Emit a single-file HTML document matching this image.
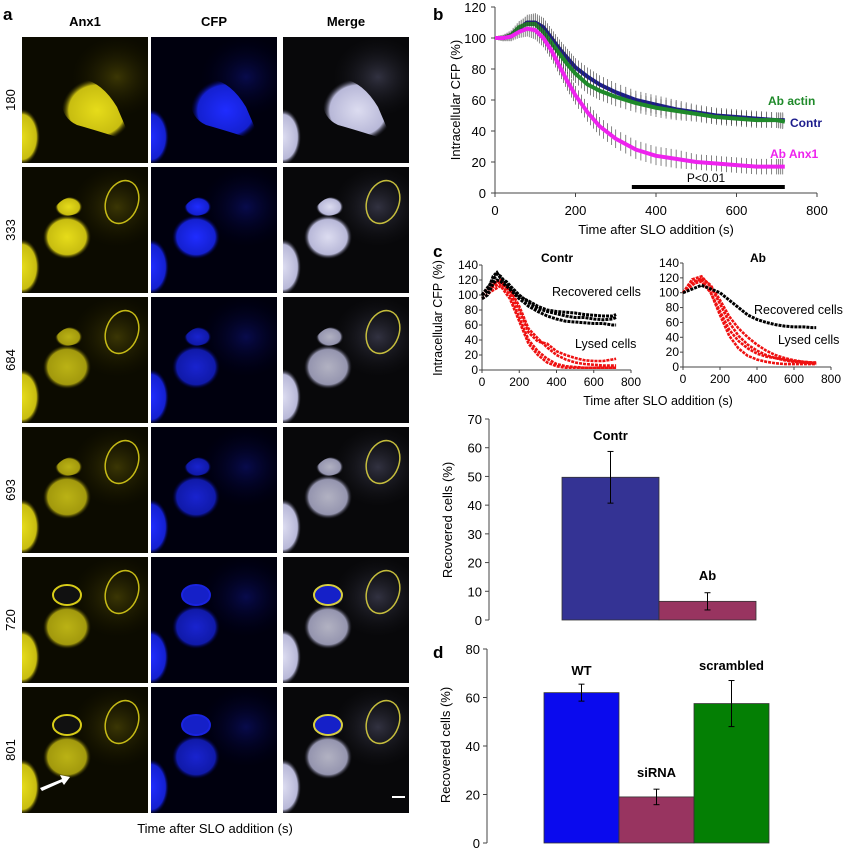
<!DOCTYPE html>
<html><head><meta charset="utf-8"><style>
html,body{margin:0;padding:0;background:#fff;}
svg{display:block;font-family:"Liberation Sans",Arial,sans-serif;}
</style></head><body>
<svg id="fig" width="844" height="850" viewBox="0 0 844 850" xmlns="http://www.w3.org/2000/svg">
<defs>
<radialGradient id="gy"><stop offset="0" stop-color="#e6dc1a"/><stop offset="0.8" stop-color="#c8bd10"/><stop offset="1" stop-color="#3a3500" stop-opacity="0"/></radialGradient>
<radialGradient id="gb"><stop offset="0" stop-color="#1f2cff"/><stop offset="0.8" stop-color="#1420d0"/><stop offset="1" stop-color="#000040" stop-opacity="0"/></radialGradient>
<radialGradient id="gm"><stop offset="0" stop-color="#dcdcf0"/><stop offset="0.8" stop-color="#b8b8d8"/><stop offset="1" stop-color="#303040" stop-opacity="0"/></radialGradient>
<radialGradient id="gy2"><stop offset="0" stop-color="#6a6208"/><stop offset="1" stop-color="#2a2600" stop-opacity="0"/></radialGradient>
<radialGradient id="gb2"><stop offset="0" stop-color="#10168a"/><stop offset="1" stop-color="#000030" stop-opacity="0"/></radialGradient>
<radialGradient id="gm2"><stop offset="0" stop-color="#5c5c78"/><stop offset="1" stop-color="#202028" stop-opacity="0"/></radialGradient>
</defs>
<g id="panelA"></g>
<g id="panelB"></g>
<g id="panelC"></g>
<g id="panelD"></g>
</svg>
<script>
// ---------- Panel b data ----------
const bTimes = [0,20,40,60,80,100,120,140,160,180,200,230,260,300,350,400,450,500,550,600,650,700,720];
const bContr = [100,100,101,106,110,110,107,100,93,87,81,75,70,65,60,57,54,52,50,49,48,47,47];
const bActin = [100,100,102,107,109,109,104,97,90,83,77,70,66,62,58,55,53,51,49,48,47,47,46];
const bAnx1  = [100,100,101,104,106,105,100,92,82,72,63,52,43,35,28,24,22,20,19,18,17,17,17];
const bErr   = [1,2,3,4,5,6,6,6,6,6,6,6,6,6,6,6,6,5,5,5,5,5,5];
const bXTicks = [0,200,400,600,800];
const bYTicks = [0,20,40,60,80,100,120];
// ---------- Panel c data ----------
const cTimes = [0,30,60,80,100,130,160,200,250,300,350,400,450,500,550,600,650,700,720];
const cRecA = [100,105,125,130,122,118,110,100,90,82,78,75,72,70,70,68,67,68,70];
const cRecB = [95,100,115,120,118,112,105,95,85,78,72,68,65,64,63,62,62,60,60];
const cRecC = [100,110,120,128,125,115,108,98,92,85,80,78,77,76,74,73,72,72,74];
const lTimes = [0,50,100,150,200,250,300,350,400,450,500,550,600,650,700,720];
const cLys1 = [100,110,115,100,70,40,25,15,8,5,4,3,3,3,3,3];
const cLys2 = [100,112,118,105,80,50,38,35,25,20,16,13,12,12,14,15];
const cLys3 = [95,105,112,95,65,35,20,10,5,3,3,3,3,3,3,3];
const cLys4 = [100,115,120,108,85,55,42,30,20,14,10,8,7,6,6,6];
const abRec = [100,105,110,105,100,90,80,70,64,60,57,55,54,54,53,53];
const abLys1 = [100,115,118,100,70,42,25,15,10,7,5,4,4,4,4,4];
const abLys2 = [100,118,122,108,85,60,42,30,22,16,12,9,7,6,5,5];
const abLys3 = [100,112,115,100,75,50,35,25,18,14,12,10,8,7,6,6];
const abLys4 = [100,110,120,110,90,68,52,40,30,22,16,12,9,7,6,6];
const cXTicks = [0,200,400,600,800];
const cYTicks = [0,20,40,60,80,100,120,140];
// ---------- Bar data ----------
const cBarCats = ["Contr","Ab"];
const cBarVals = [49.7,6.5];
const cBarErr = [9,3];
const cBarTicks = [0,10,20,30,40,50,60,70];
const dBarCats = ["WT","siRNA","scrambled"];
const dBarVals = [62,19,57.5];
const dBarErr = [3.5,3.2,9.5];
const dBarTicks = [0,20,40,60,80];
// ---------- Panel a data ----------
const aCols = ["Anx1","CFP","Merge"];
const aRows = ["180","333","684","693","720","801"];

const NS="http://www.w3.org/2000/svg";
function mk(parent,tag,attrs,text){const e=document.createElementNS(NS,tag);for(const k in attrs)e.setAttribute(k,attrs[k]);if(text!==undefined)e.textContent=text;parent.appendChild(e);return e;}

// ===== Panel A =====
const A=document.getElementById('panelA');
let t=mk(A,'text',{x:3,y:20,'font-size':17,'font-weight':'bold'},'a');


const colX=[22,151,283], colW=126, rowY=[37,167,297,427,557,687], rowH=126;
const fills=[["#0c0b00","url(#gy)","url(#gy2)","#d8cc18"],["#00000e","url(#gb)","url(#gb2)","#1a24e0"],["#08080a","url(#gm)","url(#gm2)","#d8cf40"]];
aCols.forEach((c,ci)=>{
  const h=mk(A,'text',{x:colX[ci]+colW/2,y:26,'font-size':13,'font-weight':'bold','text-anchor':'middle'},c);
  
  
});
aRows.forEach((r,ri)=>{
  const y=rowY[ri];
  const lab=mk(A,'text',{x:0,y:0,'font-size':13,'text-anchor':'middle',transform:`translate(15,${y+rowH/2}) rotate(-90)`},r);
  
  
  aCols.forEach((c,ci)=>{
    const x=colX[ci], f=fills[ci];
    const g=mk(A,'g',{});
    
    
    mk(g,'rect',{x:x,y:y,width:colW,height:rowH,fill:f[0]});
    const clip=mk(g,'clipPath',{id:'cp'+ri+ci});
    mk(clip,'rect',{x:x,y:y,width:colW,height:rowH});
    const gg=mk(g,'g',{'clip-path':`url(#cp${ri}${ci})`});
    mk(gg,'ellipse',{cx:x+95,cy:y+40,rx:45,ry:40,fill:f[2],opacity:0.5});
    mk(gg,'ellipse',{cx:x+0,cy:y+100,rx:18,ry:28,fill:f[1]});
    if(ri===0){
      mk(gg,'path',{d:`M${x+40},${y+60} Q${x+40},${y+40} ${x+60},${y+42} Q${x+80},${y+45} ${x+95},${y+70} L${x+110},${y+105} Q${x+80},${y+95} ${x+55},${y+88} Q${x+38},${y+80} ${x+40},${y+60}Z`,fill:f[1]});
    } else {
      const k=ri>=2?0.8:1;
      mk(gg,'ellipse',{cx:x+45,cy:y+70,rx:24,ry:22,fill:f[1],opacity:k});
      mk(gg,'path',{d:`M${x+33},${y+40} q10,-12 22,-10 q8,3 4,15 q-10,5 -26,5Z`,fill:f[1],opacity:k});
      mk(gg,'ellipse',{cx:x+100,cy:y+35,rx:16,ry:22,fill:'none',stroke:f[3],'stroke-width':1.5,opacity:ci===1?0:0.9,transform:`rotate(20 ${x+100} ${y+35})`});
      if(ri>=4){mk(gg,'ellipse',{cx:x+45,cy:y+38,rx:14,ry:10,fill:ci===0?'#111':'#1520c8',stroke:f[3],'stroke-width':2});}
    }
  });
});
mk(A,'line',{x1:392,y1:797,x2:405,y2:797,stroke:'#fff','stroke-width':2});
mk(A,'path',{d:'M40,788 L62,779 L60,775 L70,777 L64,785 L62,782 L42,791Z',fill:'#fff'});
t=mk(A,'text',{x:215,y:833,'font-size':13,'text-anchor':'middle'},'Time after SLO addition (s)');



// ===== Panel B =====
const B=document.getElementById('panelB');
const bx=v=>495+v*(322/800), by=v=>193-v*(186/120);
t=mk(B,'text',{x:433,y:20,'font-size':17,'font-weight':'bold'},'b');


mk(B,'line',{x1:bx(0),y1:by(0),x2:bx(800),y2:by(0),stroke:'#444'});
mk(B,'line',{x1:bx(0),y1:by(0),x2:bx(0),y2:by(120),stroke:'#444'});
bXTicks.forEach(v=>{mk(B,'line',{x1:bx(v),y1:by(0),x2:bx(v),y2:by(0)+4,stroke:'#444'});
  const e=mk(B,'text',{x:bx(v),y:215,'font-size':13,'text-anchor':'middle'},v);
  
  });
bYTicks.forEach(v=>{mk(B,'line',{x1:bx(0)-4,y1:by(v),x2:bx(0),y2:by(v),stroke:'#444'});
  const e=mk(B,'text',{x:486,y:by(v)+5,'font-size':13,'text-anchor':'end'},v);
  
  });
t=mk(B,'text',{x:0,y:0,'font-size':13,'text-anchor':'middle',transform:`translate(460,${by(60)}) rotate(-90)`},'Intracellular CFP (%)');


t=mk(B,'text',{x:656,y:234,'font-size':13,'text-anchor':'middle'},'Time after SLO addition (s)');


function bSeries(vals,col,name){
  const g=mk(B,'g',{});
  
  
  for(let i=0;i<bTimes.length-1;i++){
    for(let s=0;s<4;s++){
      const tt=bTimes[i]+(bTimes[i+1]-bTimes[i])*s/4;
      const vv=vals[i]+(vals[i+1]-vals[i])*s/4;
      const ee=bErr[i]+(bErr[i+1]-bErr[i])*s/4;
      mk(g,'line',{x1:bx(tt),y1:by(vv-ee),x2:bx(tt),y2:by(vv+ee),stroke:'#333','stroke-width':0.6});
    }
  }
  mk(g,'polyline',{points:bTimes.map((tt,i)=>bx(tt)+','+by(vals[i])).join(' '),fill:'none',stroke:col,'stroke-width':4,'stroke-linejoin':'round'});
}
bSeries(bContr,'#1c1c8c','contr');
bSeries(bActin,'#1f8a2a','ab-actin');
bSeries(bAnx1,'#ee22ee','ab-anx1');
t=mk(B,'text',{x:768,y:105,'font-size':12,'font-weight':'bold',fill:'#1f8a2a'},'Ab actin');

t=mk(B,'text',{x:790,y:127,'font-size':12,'font-weight':'bold',fill:'#1c1c8c'},'Contr');

t=mk(B,'text',{x:770,y:158,'font-size':12,'font-weight':'bold',fill:'#ee22ee'},'Ab Anx1');

mk(B,'rect',{x:bx(340),y:185,width:bx(720)-bx(340),height:4,fill:'#000'});
t=mk(B,'text',{x:706,y:182,'font-size':12,'text-anchor':'middle'},'P<0.01');


// ===== Panel C =====
const C=document.getElementById('panelC');
t=mk(C,'text',{x:433,y:257,'font-size':17,'font-weight':'bold'},'c');

function smallChart(x0,x1,y0,y140,title,tx,rec,lys,recT,name){
  const sx=v=>x0+v*(x1-x0)/800, sy=v=>y0-v*(y0-y140)/140;
  const g=mk(C,'g',{});
  
  
  mk(g,'line',{x1:x0,y1:y0,x2:x1,y2:y0,stroke:'#444'});
  mk(g,'line',{x1:x0,y1:y0,x2:x0,y2:y140,stroke:'#444'});
  cXTicks.forEach(v=>{mk(g,'line',{x1:sx(v),y1:y0,x2:sx(v),y2:y0+3,stroke:'#444'});
    const e=mk(g,'text',{x:sx(v),y:y0+16,'font-size':12,'text-anchor':'middle'},v);
    });
  cYTicks.forEach(v=>{mk(g,'line',{x1:x0-3,y1:sy(v),x2:x0,y2:sy(v),stroke:'#444'});
    const e=mk(g,'text',{x:x0-4,y:sy(v)+4,'font-size':12,'text-anchor':'end'},v);
    });
  const tl=mk(g,'text',{x:tx,y:262,'font-size':12,'font-weight':'bold','text-anchor':'middle'},title);
  
  lys.forEach(arr=>{mk(g,'polyline',{points:lTimes.map((tt,i)=>sx(tt)+','+sy(arr[i])).join(' '),fill:'none',stroke:'#ee1111','stroke-width':2.6,'stroke-dasharray':'3 1'});});
  rec.forEach(arr=>{mk(g,'polyline',{points:recT.map((tt,i)=>sx(tt)+','+sy(arr[i])).join(' '),fill:'none',stroke:'#000','stroke-width':3,'stroke-dasharray':'3 1'});});
}
smallChart(482,631,370,265,'Contr',557,[cRecA,cRecB,cRecC],[cLys1,cLys2,cLys3,cLys4],cTimes,'c-contr-traces');
smallChart(683,831,367,263,'Ab',758,[abRec],[abLys1,abLys2,abLys3,abLys4],lTimes,'c-ab-traces');
[["Recovered cells",552,296],["Lysed cells",575,348],["Recovered cells",754,314],["Lysed cells",778,344]].forEach(a=>{
  const e=mk(C,'text',{x:a[1],y:a[2],'font-size':12.5},a[0]);
  });
t=mk(C,'text',{x:0,y:0,'font-size':12.5,'text-anchor':'middle',transform:'translate(442,318) rotate(-90)'},'Intracellular CFP (%)');

t=mk(C,'text',{x:658,y:405,'font-size':12.5,'text-anchor':'middle'},'Time after SLO addition (s)');


function barChart(P,ax,y0,yTop,vmax,ticks,cats,vals,errs,left,w,cols,labelY,name,titleY){
  const sy=v=>y0-v*(y0-yTop)/vmax;
  const g=mk(P,'g',{});
  
  
  mk(g,'line',{x1:ax,y1:y0,x2:ax,y2:yTop,stroke:'#444'});
  ticks.forEach(v=>{mk(g,'line',{x1:ax-4,y1:sy(v),x2:ax,y2:sy(v),stroke:'#444'});
    const e=mk(g,'text',{x:ax-7,y:sy(v)+5,'font-size':13,'text-anchor':'end'},v);
    });
  cats.forEach((c,i)=>{
    const x=left+i*w;
    const r=mk(g,'rect',{x:x,y:sy(vals[i]),width:w,height:y0-sy(vals[i]),fill:cols[i],stroke:'#333','stroke-width':0.8});
    
    
    const cx=x+w/2;
    mk(g,'line',{x1:cx,y1:sy(vals[i]-errs[i]),x2:cx,y2:sy(vals[i]+errs[i]),stroke:'#000'});
    mk(g,'line',{x1:cx-3,y1:sy(vals[i]-errs[i]),x2:cx+3,y2:sy(vals[i]-errs[i]),stroke:'#000'});
    mk(g,'line',{x1:cx-3,y1:sy(vals[i]+errs[i]),x2:cx+3,y2:sy(vals[i]+errs[i]),stroke:'#000'});
    const l=mk(g,'text',{x:cx,y:labelY[i],'font-size':13,'font-weight':'bold','text-anchor':'middle'},c);
    
  });
  const yt=mk(g,'text',{x:0,y:0,'font-size':13,'text-anchor':'middle',transform:`translate(${ax-37},${titleY}) rotate(-90)`},'Recovered cells (%)');
  
}
barChart(C,489,620,419,70,cBarTicks,cBarCats,cBarVals,cBarErr,562,97,['#343394','#983460'],[440,580],'c-bar-chart',520);

// ===== Panel D =====
const D=document.getElementById('panelD');
t=mk(D,'text',{x:433,y:658,'font-size':17,'font-weight':'bold'},'d');

barChart(D,487,843,649,80,dBarTicks,dBarCats,dBarVals,dBarErr,544,75,['#0a0aee','#983460','#047f04'],[675,777,670],'d-bar-chart',745);
</script>
</body></html>
